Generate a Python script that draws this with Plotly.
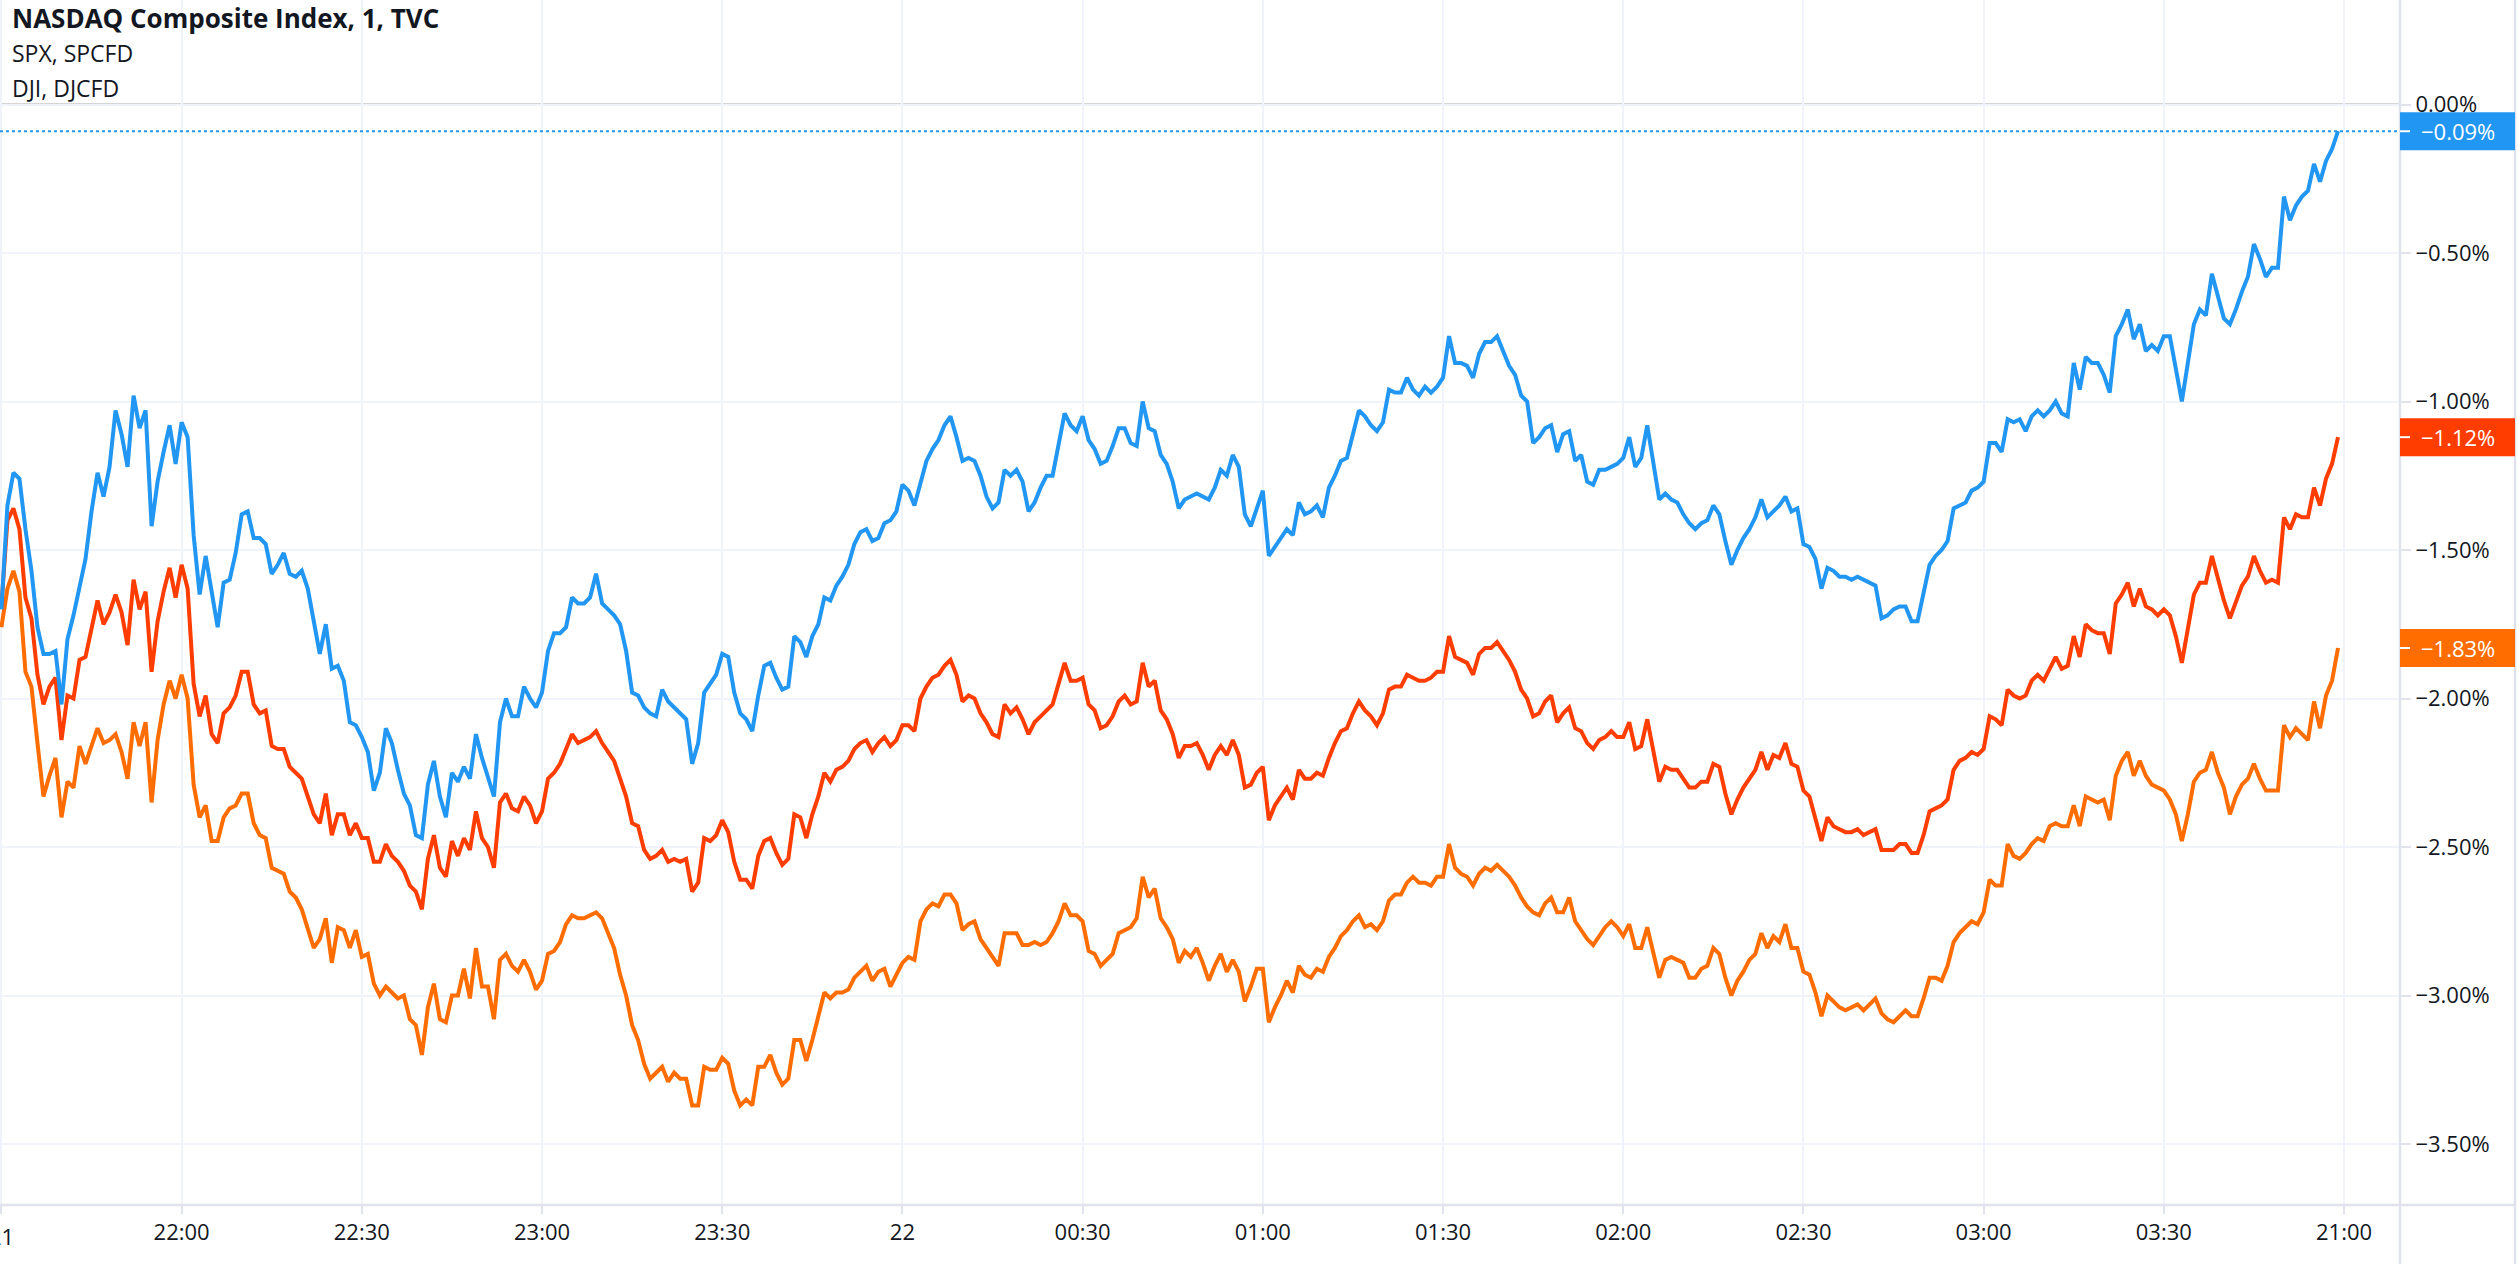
import plotly.graph_objects as go

# ---------------- data (percent change, one value per 1-minute bar) ----------------
nasdaq = [
    -1.70, -1.35, -1.24, -1.26, -1.43, -1.57, -1.76, -1.85, -1.85, -1.84,
    -2.02, -1.80, -1.72, -1.62, -1.53, -1.37, -1.24, -1.32, -1.22, -1.03,
    -1.11, -1.22, -0.98, -1.09, -1.03, -1.42, -1.27, -1.17, -1.08, -1.21,
    -1.07, -1.12, -1.45, -1.65, -1.52, -1.64, -1.76, -1.61, -1.60, -1.51,
    -1.38, -1.37, -1.46, -1.46, -1.48, -1.58, -1.55, -1.51, -1.58, -1.59,
    -1.57, -1.63, -1.74, -1.85, -1.75, -1.90, -1.89, -1.94, -2.08, -2.09,
    -2.13, -2.18, -2.31, -2.25, -2.10, -2.15, -2.24, -2.32, -2.36, -2.46,
    -2.47, -2.29, -2.21, -2.33, -2.40, -2.25, -2.28, -2.23, -2.27, -2.12,
    -2.20, -2.27, -2.33, -2.08, -2.00, -2.06, -2.06, -1.96, -2.00, -2.03,
    -1.98, -1.84, -1.78, -1.78, -1.76, -1.66, -1.68, -1.68, -1.66, -1.58,
    -1.68, -1.70, -1.72, -1.75, -1.84, -1.98, -1.99, -2.03, -2.05, -2.06,
    -1.97, -2.01, -2.03, -2.05, -2.07, -2.22, -2.15, -1.98, -1.95, -1.92,
    -1.85, -1.86, -1.98, -2.05, -2.07, -2.11, -1.99, -1.89, -1.88, -1.93,
    -1.97, -1.96, -1.79, -1.81, -1.86, -1.79, -1.75, -1.66, -1.67, -1.62,
    -1.59, -1.55, -1.48, -1.44, -1.43, -1.47, -1.46, -1.41, -1.40, -1.37,
    -1.28, -1.30, -1.35, -1.27, -1.20, -1.16, -1.13, -1.08, -1.05, -1.12,
    -1.20, -1.19, -1.20, -1.25, -1.32, -1.36, -1.34, -1.23, -1.25, -1.23,
    -1.27, -1.37, -1.34, -1.29, -1.25, -1.25, -1.14, -1.04, -1.08, -1.10,
    -1.05, -1.13, -1.16, -1.21, -1.20, -1.15, -1.09, -1.09, -1.14, -1.15,
    -1.00, -1.09, -1.10, -1.18, -1.21, -1.27, -1.36, -1.33, -1.32, -1.31,
    -1.32, -1.33, -1.29, -1.23, -1.25, -1.18, -1.22, -1.38, -1.42, -1.36,
    -1.30, -1.52, -1.49, -1.46, -1.43, -1.45, -1.34, -1.38, -1.37, -1.35,
    -1.39, -1.29, -1.25, -1.20, -1.19, -1.11, -1.03, -1.05, -1.08, -1.10,
    -1.07, -0.96, -0.97, -0.97, -0.92, -0.96, -0.98, -0.95, -0.97, -0.95,
    -0.92, -0.78, -0.87, -0.87, -0.88, -0.92, -0.84, -0.80, -0.80, -0.78,
    -0.83, -0.88, -0.91, -0.98, -1.00, -1.14, -1.12, -1.09, -1.08, -1.17,
    -1.11, -1.10, -1.20, -1.18, -1.27, -1.28, -1.23, -1.23, -1.22, -1.21,
    -1.19, -1.12, -1.22, -1.19, -1.08, -1.21, -1.33, -1.31, -1.33, -1.34,
    -1.38, -1.41, -1.43, -1.41, -1.40, -1.35, -1.38, -1.47, -1.55, -1.50,
    -1.46, -1.43, -1.39, -1.33, -1.39, -1.37, -1.35, -1.32, -1.37, -1.36,
    -1.48, -1.49, -1.53, -1.63, -1.56, -1.57, -1.59, -1.59, -1.60, -1.59,
    -1.60, -1.61, -1.62, -1.73, -1.72, -1.70, -1.69, -1.69, -1.74, -1.74,
    -1.65, -1.55, -1.52, -1.50, -1.47, -1.36, -1.35, -1.34, -1.30, -1.29,
    -1.27, -1.14, -1.14, -1.17, -1.06, -1.07, -1.06, -1.10, -1.05, -1.03,
    -1.05, -1.03, -1.00, -1.04, -1.05, -0.87, -0.96, -0.85, -0.87, -0.87,
    -0.91, -0.97, -0.78, -0.74, -0.69, -0.79, -0.74, -0.83, -0.81, -0.83,
    -0.78, -0.78, -0.89, -1.00, -0.87, -0.74, -0.69, -0.71, -0.57, -0.64,
    -0.72, -0.74, -0.69, -0.63, -0.58, -0.47, -0.52, -0.58, -0.55, -0.55,
    -0.31, -0.39, -0.34, -0.31, -0.29, -0.20, -0.26, -0.19, -0.15, -0.09,
]

spx = [
    -1.69, -1.40, -1.36, -1.43, -1.66, -1.73, -1.92, -2.02, -1.96, -1.93,
    -2.14, -1.99, -2.00, -1.87, -1.86, -1.76, -1.67, -1.75, -1.71, -1.65,
    -1.71, -1.82, -1.60, -1.70, -1.64, -1.91, -1.74, -1.64, -1.56, -1.66,
    -1.55, -1.63, -1.95, -2.06, -1.99, -2.12, -2.15, -2.05, -2.03, -1.99,
    -1.91, -1.91, -2.02, -2.05, -2.04, -2.16, -2.17, -2.17, -2.23, -2.25,
    -2.27, -2.33, -2.39, -2.42, -2.32, -2.46, -2.39, -2.39, -2.46, -2.42,
    -2.47, -2.47, -2.55, -2.55, -2.49, -2.53, -2.55, -2.58, -2.63, -2.65,
    -2.71, -2.54, -2.46, -2.57, -2.60, -2.48, -2.53, -2.47, -2.51, -2.38,
    -2.47, -2.50, -2.57, -2.35, -2.32, -2.37, -2.38, -2.33, -2.36, -2.42,
    -2.38, -2.27, -2.25, -2.22, -2.17, -2.12, -2.15, -2.14, -2.13, -2.11,
    -2.15, -2.18, -2.21, -2.27, -2.33, -2.42, -2.43, -2.51, -2.54, -2.53,
    -2.51, -2.55, -2.54, -2.55, -2.54, -2.65, -2.62, -2.47, -2.48, -2.46,
    -2.41, -2.45, -2.55, -2.61, -2.61, -2.64, -2.53, -2.48, -2.47, -2.52,
    -2.56, -2.54, -2.39, -2.40, -2.47, -2.39, -2.33, -2.25, -2.28, -2.24,
    -2.23, -2.21, -2.17, -2.15, -2.14, -2.18, -2.15, -2.13, -2.16, -2.14,
    -2.09, -2.09, -2.11, -2.00, -1.96, -1.93, -1.92, -1.89, -1.87, -1.92,
    -2.01, -1.99, -2.00, -2.05, -2.08, -2.12, -2.13, -2.02, -2.05, -2.03,
    -2.07, -2.12, -2.08, -2.06, -2.04, -2.02, -1.95, -1.88, -1.94, -1.94,
    -1.93, -2.02, -2.04, -2.10, -2.09, -2.06, -2.01, -1.99, -2.02, -2.01,
    -1.88, -1.96, -1.94, -2.04, -2.07, -2.12, -2.20, -2.16, -2.16, -2.15,
    -2.19, -2.24, -2.19, -2.16, -2.19, -2.14, -2.19, -2.30, -2.29, -2.25,
    -2.23, -2.41, -2.36, -2.33, -2.30, -2.34, -2.24, -2.27, -2.27, -2.25,
    -2.26, -2.20, -2.15, -2.11, -2.10, -2.05, -2.01, -2.04, -2.06, -2.09,
    -2.05, -1.97, -1.96, -1.96, -1.92, -1.93, -1.94, -1.94, -1.93, -1.91,
    -1.91, -1.79, -1.86, -1.87, -1.88, -1.92, -1.85, -1.83, -1.83, -1.81,
    -1.84, -1.87, -1.91, -1.97, -2.00, -2.06, -2.05, -2.01, -1.99, -2.08,
    -2.05, -2.03, -2.10, -2.11, -2.15, -2.17, -2.14, -2.13, -2.11, -2.13,
    -2.13, -2.08, -2.17, -2.16, -2.07, -2.18, -2.28, -2.23, -2.24, -2.24,
    -2.27, -2.30, -2.30, -2.28, -2.28, -2.22, -2.23, -2.32, -2.39, -2.34,
    -2.30, -2.27, -2.24, -2.18, -2.24, -2.19, -2.20, -2.15, -2.22, -2.23,
    -2.31, -2.33, -2.40, -2.48, -2.40, -2.43, -2.44, -2.45, -2.45, -2.44,
    -2.46, -2.45, -2.44, -2.51, -2.51, -2.51, -2.49, -2.49, -2.52, -2.52,
    -2.46, -2.38, -2.37, -2.36, -2.34, -2.24, -2.21, -2.20, -2.18, -2.19,
    -2.17, -2.06, -2.07, -2.09, -1.97, -1.99, -2.00, -1.99, -1.94, -1.92,
    -1.94, -1.90, -1.86, -1.90, -1.89, -1.79, -1.86, -1.75, -1.77, -1.78,
    -1.78, -1.85, -1.68, -1.65, -1.61, -1.69, -1.63, -1.69, -1.70, -1.72,
    -1.70, -1.72, -1.79, -1.88, -1.76, -1.65, -1.61, -1.61, -1.52, -1.60,
    -1.67, -1.73, -1.67, -1.62, -1.59, -1.52, -1.57, -1.61, -1.60, -1.61,
    -1.39, -1.43, -1.38, -1.39, -1.39, -1.29, -1.35, -1.26, -1.21, -1.12,
]

dji = [
    -1.76, -1.63, -1.57, -1.64, -1.91, -1.96, -2.15, -2.33, -2.26, -2.20,
    -2.40, -2.28, -2.30, -2.16, -2.22, -2.16, -2.10, -2.15, -2.14, -2.12,
    -2.18, -2.27, -2.08, -2.16, -2.08, -2.35, -2.14, -2.02, -1.94, -2.00,
    -1.92, -2.00, -2.29, -2.40, -2.36, -2.48, -2.48, -2.40, -2.37, -2.36,
    -2.32, -2.32, -2.42, -2.46, -2.47, -2.57, -2.58, -2.59, -2.65, -2.67,
    -2.71, -2.77, -2.84, -2.81, -2.74, -2.89, -2.77, -2.78, -2.84, -2.78,
    -2.87, -2.86, -2.96, -3.00, -2.97, -2.99, -3.01, -3.00, -3.08, -3.10,
    -3.20, -3.04, -2.96, -3.08, -3.09, -3.00, -3.00, -2.91, -3.01, -2.84,
    -2.97, -2.97, -3.08, -2.88, -2.86, -2.90, -2.92, -2.88, -2.92, -2.98,
    -2.95, -2.86, -2.85, -2.82, -2.76, -2.73, -2.74, -2.74, -2.73, -2.72,
    -2.74, -2.79, -2.84, -2.93, -3.00, -3.10, -3.15, -3.23, -3.28, -3.26,
    -3.24, -3.29, -3.26, -3.28, -3.28, -3.37, -3.37, -3.24, -3.25, -3.25,
    -3.21, -3.23, -3.32, -3.37, -3.35, -3.37, -3.24, -3.24, -3.20, -3.26,
    -3.30, -3.28, -3.15, -3.15, -3.22, -3.15, -3.07, -2.99, -3.01, -2.99,
    -2.99, -2.98, -2.94, -2.92, -2.90, -2.95, -2.92, -2.91, -2.97, -2.93,
    -2.89, -2.87, -2.88, -2.75, -2.71, -2.69, -2.70, -2.66, -2.66, -2.69,
    -2.78, -2.76, -2.75, -2.81, -2.84, -2.87, -2.90, -2.79, -2.79, -2.79,
    -2.83, -2.83, -2.82, -2.83, -2.82, -2.79, -2.75, -2.69, -2.73, -2.73,
    -2.75, -2.85, -2.86, -2.90, -2.88, -2.86, -2.79, -2.78, -2.77, -2.74,
    -2.60, -2.67, -2.64, -2.74, -2.77, -2.81, -2.89, -2.85, -2.87, -2.84,
    -2.89, -2.95, -2.90, -2.86, -2.92, -2.88, -2.92, -3.02, -2.97, -2.91,
    -2.91, -3.09, -3.04, -3.00, -2.95, -2.99, -2.90, -2.93, -2.94, -2.91,
    -2.92, -2.87, -2.84, -2.80, -2.78, -2.75, -2.73, -2.77, -2.76, -2.78,
    -2.75, -2.68, -2.66, -2.66, -2.62, -2.60, -2.62, -2.62, -2.63, -2.60,
    -2.60, -2.49, -2.57, -2.59, -2.60, -2.63, -2.59, -2.57, -2.58, -2.56,
    -2.58, -2.60, -2.63, -2.67, -2.70, -2.72, -2.73, -2.69, -2.67, -2.72,
    -2.72, -2.67, -2.75, -2.78, -2.81, -2.83, -2.80, -2.77, -2.75, -2.77,
    -2.80, -2.76, -2.84, -2.84, -2.77, -2.85, -2.94, -2.88, -2.87, -2.88,
    -2.89, -2.94, -2.94, -2.91, -2.90, -2.84, -2.86, -2.94, -3.00, -2.95,
    -2.92, -2.88, -2.86, -2.79, -2.84, -2.80, -2.82, -2.76, -2.84, -2.84,
    -2.92, -2.93, -2.99, -3.07, -3.00, -3.02, -3.04, -3.05, -3.04, -3.03,
    -3.05, -3.03, -3.01, -3.06, -3.08, -3.09, -3.07, -3.05, -3.07, -3.07,
    -3.01, -2.94, -2.94, -2.95, -2.90, -2.82, -2.79, -2.77, -2.75, -2.76,
    -2.72, -2.61, -2.63, -2.63, -2.49, -2.53, -2.54, -2.52, -2.49, -2.47,
    -2.48, -2.43, -2.42, -2.43, -2.43, -2.36, -2.43, -2.33, -2.34, -2.35,
    -2.34, -2.41, -2.26, -2.21, -2.18, -2.26, -2.21, -2.26, -2.29, -2.30,
    -2.31, -2.34, -2.39, -2.48, -2.39, -2.28, -2.25, -2.24, -2.18, -2.25,
    -2.30, -2.39, -2.33, -2.29, -2.27, -2.22, -2.27, -2.31, -2.31, -2.31,
    -2.09, -2.13, -2.10, -2.12, -2.14, -2.01, -2.10, -1.99, -1.94, -1.83,
]

series_names = ["NASDAQ Composite Index, 1, TVC", "SPX, SPCFD", "DJI, DJCFD"]
series_colors = ["#2196F3", "#FF3D00", "#FF6D00"]

time_tick_bars = [0, 30, 60, 90, 120, 150, 180, 210, 240, 270, 300, 330, 360, 390]
time_tick_labels = ["21", "22:00", "22:30", "23:00", "23:30", "22", "00:30", "01:00",
                    "01:30", "02:00", "02:30", "03:00", "03:30", "21:00"]
pct_ticks = [0.0, -0.5, -1.0, -1.5, -2.0, -2.5, -3.0, -3.5]


def pct_text(v):
    return f"{v:.2f}%".replace("-", "\u2212")


# ---------------- geometry (pixels) ----------------
W, H = 2519, 1264
PLOT_W, PLOT_H = 2400, 1205
AXIS_RIGHT = 2515
PX_PER_BAR = 6.0067
PX_PER_PCT = 297.0
X0_PX = 1.42          # pixel position of bar 0
ZERO_PX = 104.5       # pixel position of 0 %
TIME_LABEL_PX = 1236  # vertical centre of the time-scale labels
LEGEND_X_PX = 10

x_range = [-X0_PX / PX_PER_BAR, (PLOT_W - X0_PX) / PX_PER_BAR]
y_range = [-(PLOT_H - ZERO_PX) / PX_PER_PCT, ZERO_PX / PX_PER_PCT]

FONT = "Open Sans"
TEXT_COLOR = "#131722"
GRID = "#F0F3FA"
FRAME = "#E0E3EB"

bars = list(range(len(nasdaq)))
all_series = [nasdaq, spx, dji]

fig = go.Figure()
for vals, col, name in reversed(list(zip(all_series, series_colors, series_names))):
    fig.add_trace(go.Scatter(
        x=bars, y=vals, mode="lines", name=name,
        line=dict(color=col, width=4),
        hoverinfo="skip", showlegend=False,
    ))

shapes = []
# 0 % base line
shapes.append(dict(type="line", xref="paper", yref="y", x0=0, x1=1, y0=0, y1=0,
                   line=dict(color="#ABABAB", width=2), layer="below"))
# dotted last-price line of the main series
shapes.append(dict(type="line", xref="paper", yref="y", x0=0, x1=1,
                   y0=nasdaq[-1], y1=nasdaq[-1],
                   line=dict(color=series_colors[0], width=2, dash="dot"), layer="above"))
# frame lines of the price scale / time scale
bottom_paper = -(H - PLOT_H) / PLOT_H
shapes.append(dict(type="line", xref="paper", yref="paper", x0=1, x1=1, y0=bottom_paper, y1=1,
                   line=dict(color=FRAME, width=2.5)))
shapes.append(dict(type="line", xref="paper", yref="paper", x0=AXIS_RIGHT / PLOT_W, x1=AXIS_RIGHT / PLOT_W,
                   y0=bottom_paper, y1=1, line=dict(color=FRAME, width=2.5)))
shapes.append(dict(type="line", xref="paper", yref="paper", x0=0, x1=AXIS_RIGHT / PLOT_W, y0=0, y1=0,
                   line=dict(color=FRAME, width=2.5)))

annotations = []
# last value labels on the price scale
half_box = 19 / PX_PER_PCT
for vals, col in zip(all_series, series_colors):
    last = vals[-1]
    shapes.append(dict(type="rect", xref="paper", yref="y", x0=1, x1=AXIS_RIGHT / PLOT_W,
                       y0=last - half_box, y1=last + half_box,
                       fillcolor=col, line=dict(width=0), layer="above"))
    shapes.append(dict(type="line", xref="paper", yref="y", x0=1, x1=1 + 10 / PLOT_W,
                       y0=last, y1=last, line=dict(color="white", width=2), layer="above"))
    annotations.append(dict(xref="paper", yref="y", x=(PLOT_W + AXIS_RIGHT) / 2 / PLOT_W, y=last,
                            xanchor="center", yanchor="middle", showarrow=False,
                            text=pct_text(last), font=dict(family=FONT, size=22, color="white")))

# first time label sits on the left edge and is cut off by the chart border (as in the original)
annotations.append(dict(xref="x", yref="paper", x=time_tick_bars[0],
                        y=-(TIME_LABEL_PX - PLOT_H) / PLOT_H,
                        xanchor="center", yanchor="middle", showarrow=False,
                        text=time_tick_labels[0], font=dict(family=FONT, size=22, color=TEXT_COLOR)))
axis_tick_text = [""] + time_tick_labels[1:]

# legend (series titles) in the top-left corner
legend_rows_px = [18, 53, 88]
for i, (name, row) in enumerate(zip(series_names, legend_rows_px)):
    annotations.append(dict(xref="paper", yref="paper", x=LEGEND_X_PX / PLOT_W, y=(PLOT_H - row) / PLOT_H,
                            xanchor="left", yanchor="middle", showarrow=False,
                            text=f"<b>{name}</b>" if i == 0 else name,
                            font=dict(family=FONT, size=26 if i == 0 else 23, color=TEXT_COLOR)))

fig.update_layout(
    width=W, height=H,
    margin=dict(l=0, r=W - PLOT_W, t=0, b=H - PLOT_H, pad=0, autoexpand=False),
    paper_bgcolor="white", plot_bgcolor="white",
    font=dict(family=FONT, size=22, color=TEXT_COLOR),
    shapes=shapes, annotations=annotations,
    hovermode=False,
    xaxis=dict(range=x_range, tickmode="array", tickvals=time_tick_bars, ticktext=axis_tick_text,
               ticks="outside", ticklen=8, tickwidth=2, tickcolor=FRAME,
               showgrid=True, gridcolor=GRID, gridwidth=2, zeroline=False, showline=False,
               tickfont=dict(family=FONT, size=22, color=TEXT_COLOR), fixedrange=True),
    yaxis=dict(range=y_range, side="right", tickmode="array", tickvals=pct_ticks,
               ticktext=[pct_text(v) for v in pct_ticks],
               ticks="outside", ticklen=10, tickwidth=2, tickcolor=FRAME,
               showgrid=True, gridcolor=GRID, gridwidth=2, zeroline=False, showline=False,
               tickfont=dict(family=FONT, size=22, color=TEXT_COLOR), fixedrange=True),
)

fig.write_html("out.html")
